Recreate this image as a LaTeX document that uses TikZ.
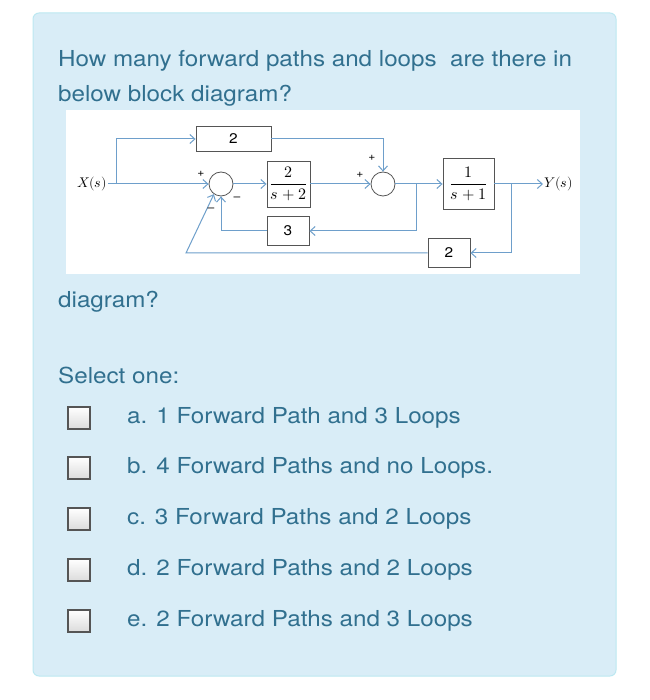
\documentclass[tikz,border=0pt]{standalone}
\usepackage{fontspec}
\usepackage{unicode-math}
\usetikzlibrary{arrows.meta}
\setmainfont{TeX Gyre Heros}[FakeStretch=1.1]
\setmathfont{Latin Modern Math}
\definecolor{panelfill}{HTML}{D9EDF7}
\definecolor{panelline}{HTML}{BCE8F1}
\definecolor{infotext}{HTML}{31708F}
\definecolor{wire}{HTML}{6E9FCB}
\definecolor{boxgray}{HTML}{555555}
\tikzset{
  blk/.style={draw=boxgray,line width=0.9pt,fill=white,inner sep=0pt,font=\fontsize{14}{15}\selectfont},
  frc/.style={font=\fontsize{16}{17}\selectfont},
  sumj/.style={circle,draw=boxgray,line width=0.8pt,fill=white,minimum size=24,inner sep=0pt},
  sig/.style={font=\fontsize{11}{11}\selectfont,inner sep=0pt},
  ln/.style={draw=wire,line width=1pt},
  arr/.style={ln,-{Straight Barb[length=5pt,width=9pt]}},
  qtext/.style={anchor=base west,inner sep=0pt,text=infotext,font=\fontsize{22}{26}\selectfont},
  optbox/.style={draw=boxgray,line width=1.6pt,top color=white,bottom color=black!14,minimum size=22,inner sep=0pt},
}
\begin{document}
\begin{tikzpicture}[x=1pt,y=-1pt]
  \useasboundingbox (0,0) rectangle (649,700);
  % panel
  \draw[panelline,fill=panelfill,line width=1pt,rounded corners=6] (33,13) rectangle (616,676);
  \node[qtext] (q1) at (58,67) {How many forward paths and loops\ \ are there in};
  \node[qtext] (q2) at (58,102) {below block diagram?};
  % block diagram
  \fill[white] (66,110) rectangle (580,274);
  \node[anchor=east,inner sep=1pt,font=\fontsize{14}{14}\selectfont] (X) at (108,184) {$X(s)$};
  \coordinate (br1) at (116,184);
  \node[sumj] (s1) at (221,184) {};
  \node[blk,minimum width=75,minimum height=25] (k2) at (233.5,139) {2};
  \node[blk,frc,minimum width=43,minimum height=46] (g1) at (288.5,184) {$\displaystyle\frac{2}{s+2}$};
  \node[blk,minimum width=42,minimum height=29] (k3) at (288,231) {3};
  \node[sumj] (s2) at (383,184) {};
  \node[blk,frc,minimum width=51,minimum height=51] (g2) at (468.5,184) {$\displaystyle\frac{1}{s+1}$};
  \node[blk,minimum width=42,minimum height=29] (h2) at (449,253) {2};
  \node[anchor=west,inner sep=1pt,font=\fontsize{14}{14}\selectfont] (Y) at (543,184) {$Y(s)$};
  \coordinate (br2) at (416,184);
  \coordinate (br3) at (511,184);
  \coordinate (c1) at (186,253);
  \draw[arr] (X.east) -- (s1.west);
  \draw[arr] (br1) |- (k2.west);
  \draw[arr] (k2.east) -| (s2.north);
  \draw[arr] (s1.east) -- (g1.west);
  \draw[arr] (g1.east) -- (s2.west);
  \draw[arr] (s2.east) -- (g2.west);
  \draw[arr] (br2) |- (k3.east);
  \draw[arr] (k3.west) -| (s1.south);
  \draw[arr] (g2.east) -- (Y.west);
  \draw[arr] (br3) |- (h2.east);
  \draw[arr] (h2.west) -- (c1) -- (s1.235);
  % signs
  \node[sig] (p1) at (201,174) {+};
  \node[sig] (m1) at (237,199) {--};
  \node[sig] (m2) at (211,210) {--};
  \node[sig] (p2) at (372,158) {+};
  \node[sig] (p3) at (360,175) {+};
  % answers
  \node[qtext] (q3) at (58,307) {diagram?};
  \node[qtext] (sel) at (58,383) {Select one:};
  \foreach \y/\txt [count=\i] in {
      418/{a. 1 Forward Path and 3 Loops},
      468/{b. 4 Forward Paths and no Loops.},
      519/{c. 3 Forward Paths and 2 Loops},
      570/{d. 2 Forward Paths and 2 Loops},
      621/{e. 2 Forward Paths and 3 Loops}}{
    \node[optbox] (cb\i) at (79,\y) {};
    \node[qtext,anchor=west] (opt\i) at (127,\y) {\txt};
  }
\end{tikzpicture}
\end{document}
